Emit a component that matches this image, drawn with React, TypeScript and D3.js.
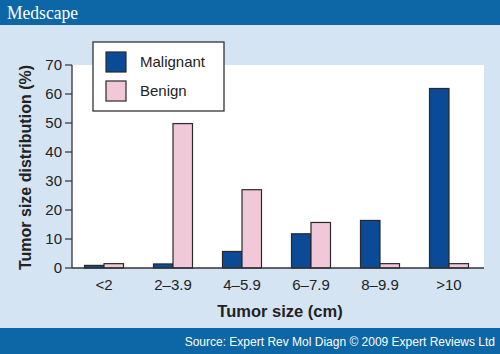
import { useRef, useEffect } from 'react';
import * as d3 from 'd3';

const categories = ['<2', '2\u20133.9', '4\u20135.9', '6\u20137.9', '8\u20139.9', '>10'];
const malignant = [0.9, 1.4, 5.7, 11.8, 16.4, 61.9];
const benign = [1.5, 49.8, 27, 15.7, 1.5, 1.5];
const yTicks = [0, 10, 20, 30, 40, 50, 60, 70];
const seriesNames = ['Malignant', 'Benign'];

const COLORS = { malignant: '#0a4a96', benign: '#f1c8d8' };

export default function App() {
  const svgRef = useRef<SVGSVGElement>(null);

  useEffect(() => {
    document.body.style.margin = '0';
    if (!svgRef.current) return;
    const svg = d3.select(svgRef.current);
    svg.selectAll('*').remove();

    const width = 500;
    const height = 354;
    const font = 'Liberation Sans, Arial, sans-serif';

    // Background panels
    svg.append('rect').attr('width', width).attr('height', height).attr('fill', '#d5e4f3');
    svg.append('rect').attr('width', width).attr('height', 25).attr('fill', '#0d66a5');
    svg.append('rect').attr('y', 328).attr('width', width).attr('height', height - 328).attr('fill', '#0d66a5');
    svg.append('text')
      .attr('x', 7).attr('y', 19)
      .attr('fill', '#fff')
      .attr('textLength', 71)
      .attr('lengthAdjust', 'spacingAndGlyphs')
      .style('font-family', 'Liberation Serif, Times, serif')
      .style('font-size', '19px')
      .text('Medscape');
    svg.append('text')
      .attr('x', 495).attr('y', 346)
      .attr('text-anchor', 'end')
      .attr('fill', '#fff')
      .style('font-family', font)
      .style('font-size', '12px')
      .text('Source: Expert Rev Mol Diagn \u00a9 2009 Expert Reviews Ltd');

    const plot = { left: 72, right: 484, top: 65, bottom: 268 };

    svg.append('rect')
      .attr('x', plot.left).attr('y', plot.top)
      .attr('width', plot.right - plot.left).attr('height', plot.bottom - plot.top)
      .attr('fill', '#fff');

    const x = d3.scaleBand<string>().domain(categories).range([69.5, 483.5]);
    const y = d3.scaleLinear().domain([0, 70]).range([plot.bottom, plot.top]);
    const barW = 19.5;

    // Bars
    categories.forEach((c, i) => {
      const cx = x(c)! + x.bandwidth() / 2;
      [
        { v: malignant[i], x0: cx - barW, color: COLORS.malignant },
        { v: benign[i], x0: cx, color: COLORS.benign },
      ].forEach((b) => {
        svg.append('rect')
          .attr('x', b.x0).attr('y', y(b.v))
          .attr('width', barW).attr('height', y(0) - y(b.v))
          .attr('fill', b.color)
          .attr('stroke', '#2a2a2a')
          .attr('stroke-width', 1.2);
      });
    });

    // Axes
    svg.append('line')
      .attr('x1', plot.left).attr('x2', plot.left)
      .attr('y1', plot.top).attr('y2', plot.bottom)
      .attr('stroke', '#333').attr('stroke-width', 1.3);
    svg.append('line')
      .attr('x1', plot.left).attr('x2', plot.right)
      .attr('y1', plot.bottom).attr('y2', plot.bottom)
      .attr('stroke', '#333').attr('stroke-width', 1.3);

    yTicks.forEach((t) => {
      svg.append('line')
        .attr('x1', plot.left - 7).attr('x2', plot.left)
        .attr('y1', y(t)).attr('y2', y(t))
        .attr('stroke', '#333').attr('stroke-width', 1.2);
      svg.append('text')
        .attr('x', plot.left - 10).attr('y', y(t) + 5)
        .attr('text-anchor', 'end')
        .attr('fill', '#222')
        .style('font-family', font).style('font-size', '15px')
        .text(t);
    });

    categories.forEach((c) => {
      svg.append('text')
        .attr('x', x(c)! + x.bandwidth() / 2).attr('y', 290)
        .attr('text-anchor', 'middle')
        .attr('fill', '#222')
        .style('font-family', font).style('font-size', '15px')
        .text(c);
    });

    // Titles
    svg.append('text')
      .attr('x', 280).attr('y', 317)
      .attr('text-anchor', 'middle')
      .attr('fill', '#222')
      .style('font-family', font).style('font-size', '16.5px').style('font-weight', 'bold')
      .text('Tumor size (cm)');
    svg.append('text')
      .attr('transform', `translate(31, ${(plot.top + plot.bottom) / 2 + 1}) rotate(-90)`)
      .attr('text-anchor', 'middle')
      .attr('fill', '#222')
      .style('font-family', font).style('font-size', '16px').style('font-weight', 'bold')
      .text('Tumor size distribution (%)');

    // Legend
    const lg = svg.append('g');
    lg.append('rect')
      .attr('x', 93).attr('y', 42).attr('width', 131).attr('height', 69)
      .attr('fill', '#fff').attr('stroke', '#333').attr('stroke-width', 1.3);
    seriesNames.forEach((name, i) => {
      const yy = 52 + i * 29;
      lg.append('rect')
        .attr('x', 106).attr('y', yy).attr('width', 20).attr('height', 20)
        .attr('fill', i === 0 ? COLORS.malignant : COLORS.benign)
        .attr('stroke', '#2a2a2a').attr('stroke-width', 1.2);
      lg.append('text')
        .attr('x', 140).attr('y', yy + 15)
        .attr('fill', '#222')
        .style('font-family', font).style('font-size', '15px')
        .text(name);
    });
  }, []);

  return <svg ref={svgRef} width={500} height={354} style={{ display: 'block' }} />;
}
